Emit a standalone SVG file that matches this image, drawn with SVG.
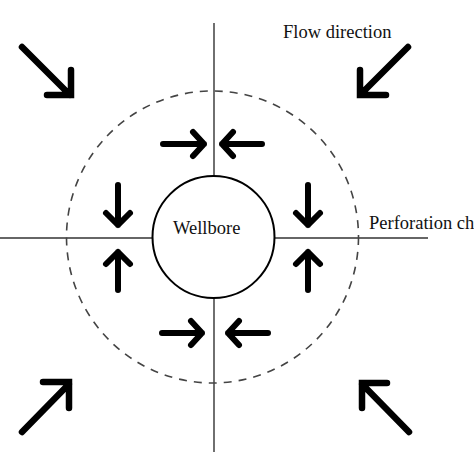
<svg xmlns="http://www.w3.org/2000/svg" width="474" height="474" viewBox="0 0 474 474">
<style>
.ax{stroke:#333;stroke-width:1.4;fill:none}
.arr{stroke:#000;stroke-width:6;fill:none;stroke-linecap:round;stroke-linejoin:round}
.big{stroke:#000;stroke-width:6.5;fill:none;stroke-linecap:round;stroke-linejoin:miter}
.lbl{font-family:"Liberation Serif","Times New Roman",serif;font-size:18.5px;fill:#111}
</style>
<rect width="474" height="474" fill="#fff"/>
<g id="axes">
<line class="ax" x1="214" y1="23" x2="214" y2="452"/>
<line class="ax" x1="0" y1="238" x2="428" y2="238"/>
</g>
<g id="drainage-zone">
<circle cx="212.5" cy="237" r="146" fill="none" stroke="#444" stroke-width="1.6" stroke-dasharray="8,7"/>
</g>
<g id="wellbore">
<circle cx="213.5" cy="237" r="61" fill="#fff" stroke="#000" stroke-width="2"/>
<text class="lbl" x="173" y="234">Wellbore</text>
</g>
<g id="labels">
<text class="lbl" x="283" y="38">Flow direction</text>
<text class="lbl" x="369" y="229">Perforation ch</text>
</g>
<g id="connectors">
<path class="big" d="M22,47 L70,95 M47,95 H71 V70"/>
<path class="big" d="M408,47 L361,94 M386,95 H360 V70"/>
<path class="big" d="M22,432 L69,384 M43,382 H69 V408"/>
<path class="big" d="M409,432 L362,384 M387,383 H362 V408"/>
<path class="arr" d="M163,144 H204 M193,132 L204,144 L193,156"/>
<path class="arr" d="M262,144 H222 M233,132 L222,144 L233,156"/>
<path class="arr" d="M162,333 H202 M191,321 L202,333 L191,345"/>
<path class="arr" d="M268,333 H228 M239,321 L228,333 L239,345"/>
<path class="arr" d="M118,185 V225 M106,213 L118,225 L130,213"/>
<path class="arr" d="M118,290 V252 M106,264 L118,252 L130,264"/>
<path class="arr" d="M308,185 V225 M296,213 L308,225 L320,213"/>
<path class="arr" d="M308,290 V252 M296,264 L308,252 L320,264"/>
</g>
</svg>
